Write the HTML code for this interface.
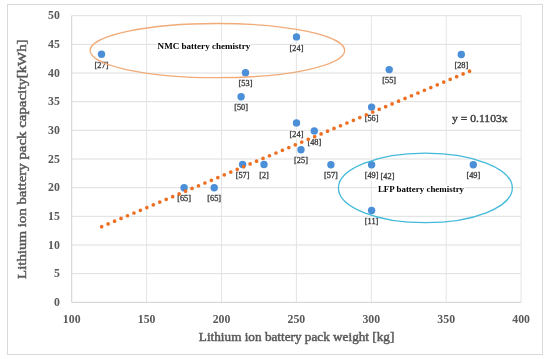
<!DOCTYPE html>
<html><head><meta charset="utf-8"><title>Battery pack capacity vs weight</title>
<style>html,body{margin:0;padding:0;background:#fff;width:550px;height:359px;overflow:hidden}svg{display:block}</style>
</head><body>
<svg width="550" height="359" viewBox="0 0 550 359"><rect x="0" y="0" width="550" height="359" fill="#fff"/><rect x="7.5" y="4.5" width="535" height="350" fill="none" stroke="#d9d9d9" stroke-width="1"/><path d="M71.70 273.64H521.10 M71.70 244.98H521.10 M71.70 216.32H521.10 M71.70 187.66H521.10 M71.70 159.00H521.10 M71.70 130.34H521.10 M71.70 101.68H521.10 M71.70 73.02H521.10 M71.70 44.36H521.10 M71.70 15.70H521.10" stroke="#dedede" stroke-width="1" fill="none"/><path d="M146.60 302.30V15.70 M221.50 302.30V15.70 M296.40 302.30V15.70 M371.30 302.30V15.70 M446.20 302.30V15.70 M521.10 302.30V15.70" stroke="#e4e4e4" stroke-width="1" fill="none"/><path d="M71.70 15.70V302.30H521.10" stroke="#d0d0d0" stroke-width="1" fill="none"/><g font-family="'Liberation Serif', 'DejaVu Serif', serif" font-weight="bold" font-size="11.8" fill="#595959"><text x="59.9" y="305.90" text-anchor="end">0</text><text x="59.9" y="277.24" text-anchor="end">5</text><text x="59.9" y="248.58" text-anchor="end">10</text><text x="59.9" y="219.92" text-anchor="end">15</text><text x="59.9" y="191.26" text-anchor="end">20</text><text x="59.9" y="162.60" text-anchor="end">25</text><text x="59.9" y="133.94" text-anchor="end">30</text><text x="59.9" y="105.28" text-anchor="end">35</text><text x="59.9" y="76.62" text-anchor="end">40</text><text x="59.9" y="47.96" text-anchor="end">45</text><text x="59.9" y="19.30" text-anchor="end">50</text><text x="71.70" y="323.3" text-anchor="middle">100</text><text x="146.60" y="323.3" text-anchor="middle">150</text><text x="221.50" y="323.3" text-anchor="middle">200</text><text x="296.40" y="323.3" text-anchor="middle">250</text><text x="371.30" y="323.3" text-anchor="middle">300</text><text x="446.20" y="323.3" text-anchor="middle">350</text><text x="521.10" y="323.3" text-anchor="middle">400</text></g><text x="296.6" y="340.9" text-anchor="middle" font-family="'Liberation Serif', 'DejaVu Serif', serif" font-size="12.2" fill="#595959" stroke="#595959" stroke-width="0.45" textLength="195.5" lengthAdjust="spacingAndGlyphs">Lithium ion battery pack weight [kg]</text><text transform="translate(25.8 159.2) rotate(-90)" x="0" y="0" text-anchor="middle" font-family="'Liberation Serif', 'DejaVu Serif', serif" font-size="13" fill="#595959" stroke="#595959" stroke-width="0.45" textLength="239.5" lengthAdjust="spacingAndGlyphs">Lithium ion battery pack capacity[kWh]</text><g fill="#fff"><rect x="94.80" y="61.30" width="13.40" height="8.6"/><rect x="289.80" y="43.90" width="13.40" height="8.6"/><rect x="238.80" y="79.70" width="13.40" height="8.6"/><rect x="234.40" y="103.70" width="13.40" height="8.6"/><rect x="382.50" y="76.60" width="13.40" height="8.6"/><rect x="454.60" y="61.50" width="13.40" height="8.6"/><rect x="364.90" y="114.10" width="13.40" height="8.6"/><rect x="289.80" y="129.90" width="13.40" height="8.6"/><rect x="307.60" y="137.90" width="13.40" height="8.6"/><rect x="294.30" y="156.70" width="13.40" height="8.6"/><rect x="235.90" y="171.50" width="13.40" height="8.6"/><rect x="259.20" y="171.50" width="9.60" height="8.6"/><rect x="324.20" y="171.70" width="13.40" height="8.6"/><rect x="364.90" y="171.70" width="13.40" height="8.6"/><rect x="466.60" y="171.70" width="13.40" height="8.6"/><rect x="364.90" y="217.50" width="13.40" height="8.6"/><rect x="177.40" y="194.80" width="13.40" height="8.6"/><rect x="207.50" y="194.80" width="13.40" height="8.6"/><rect x="380.80" y="172.30" width="13.40" height="8.6"/></g><g font-family="'Liberation Serif', 'DejaVu Serif', serif" font-size="8.3" fill="#404040" stroke="#404040" stroke-width="0.35" text-anchor="middle"><text x="101.5" y="67.9">[27]</text><text x="296.5" y="50.5">[24]</text><text x="245.5" y="86.3">[53]</text><text x="241.1" y="110.3">[50]</text><text x="389.2" y="83.2">[55]</text><text x="461.3" y="68.1">[28]</text><text x="371.6" y="120.7">[56]</text><text x="296.5" y="136.5">[24]</text><text x="314.3" y="144.5">[48]</text><text x="301.0" y="163.3">[25]</text><text x="242.6" y="178.1">[57]</text><text x="264.0" y="178.1">[2]</text><text x="330.9" y="178.3">[57]</text><text x="371.6" y="178.3">[49]</text><text x="473.3" y="178.3">[49]</text><text x="371.6" y="224.1">[11]</text><text x="184.1" y="201.4">[65]</text><text x="214.2" y="201.4">[65]</text><text x="387.5" y="178.9">[42]</text></g><g fill="#4a8fd8"><circle cx="101.5" cy="54.3" r="3.7"/><circle cx="296.5" cy="36.9" r="3.7"/><circle cx="245.5" cy="72.7" r="3.7"/><circle cx="241.1" cy="96.7" r="3.7"/><circle cx="389.2" cy="69.6" r="3.7"/><circle cx="461.3" cy="54.5" r="3.7"/><circle cx="371.6" cy="107.1" r="3.7"/><circle cx="296.5" cy="122.9" r="3.7"/><circle cx="314.3" cy="130.9" r="3.7"/><circle cx="301.0" cy="149.7" r="3.7"/><circle cx="242.6" cy="164.5" r="3.7"/><circle cx="264.0" cy="164.5" r="3.7"/><circle cx="330.9" cy="164.7" r="3.7"/><circle cx="371.6" cy="164.7" r="3.7"/><circle cx="473.3" cy="164.7" r="3.7"/><circle cx="371.6" cy="210.5" r="3.7"/><circle cx="184.1" cy="187.8" r="3.7"/><circle cx="214.2" cy="187.8" r="3.7"/></g><path d="M101.66 226.65L473.16 69.66" stroke="#ee6f22" stroke-width="3.7" stroke-linecap="round" stroke-dasharray="0 7.007" fill="none"/><text x="452" y="122.2" font-family="'Liberation Serif', 'DejaVu Serif', serif" font-size="9.4" fill="#404040" stroke="#404040" stroke-width="0.35" textLength="55.6" lengthAdjust="spacingAndGlyphs">y = 0.1103x</text><ellipse cx="217.4" cy="50.6" rx="127.3" ry="27.1" fill="none" stroke="#f1ab78" stroke-width="1.3"/><ellipse cx="425.35" cy="187.95" rx="86.95" ry="34.75" fill="none" stroke="#44bad9" stroke-width="1.3"/><rect x="156.4" y="41.5" width="94" height="8.1" fill="#fff"/><rect x="377.2" y="185" width="87.3" height="9.8" fill="#fff"/><text x="157.6" y="48.5" font-family="'Liberation Serif', 'DejaVu Serif', serif" font-weight="bold" font-size="8.8" fill="#000" textLength="92.6" lengthAdjust="spacingAndGlyphs">NMC battery chemistry</text><text x="377.9" y="191.9" font-family="'Liberation Serif', 'DejaVu Serif', serif" font-weight="bold" font-size="8.7" fill="#000" textLength="86.2" lengthAdjust="spacingAndGlyphs">LFP battery chemistry</text></svg>
</body></html>
